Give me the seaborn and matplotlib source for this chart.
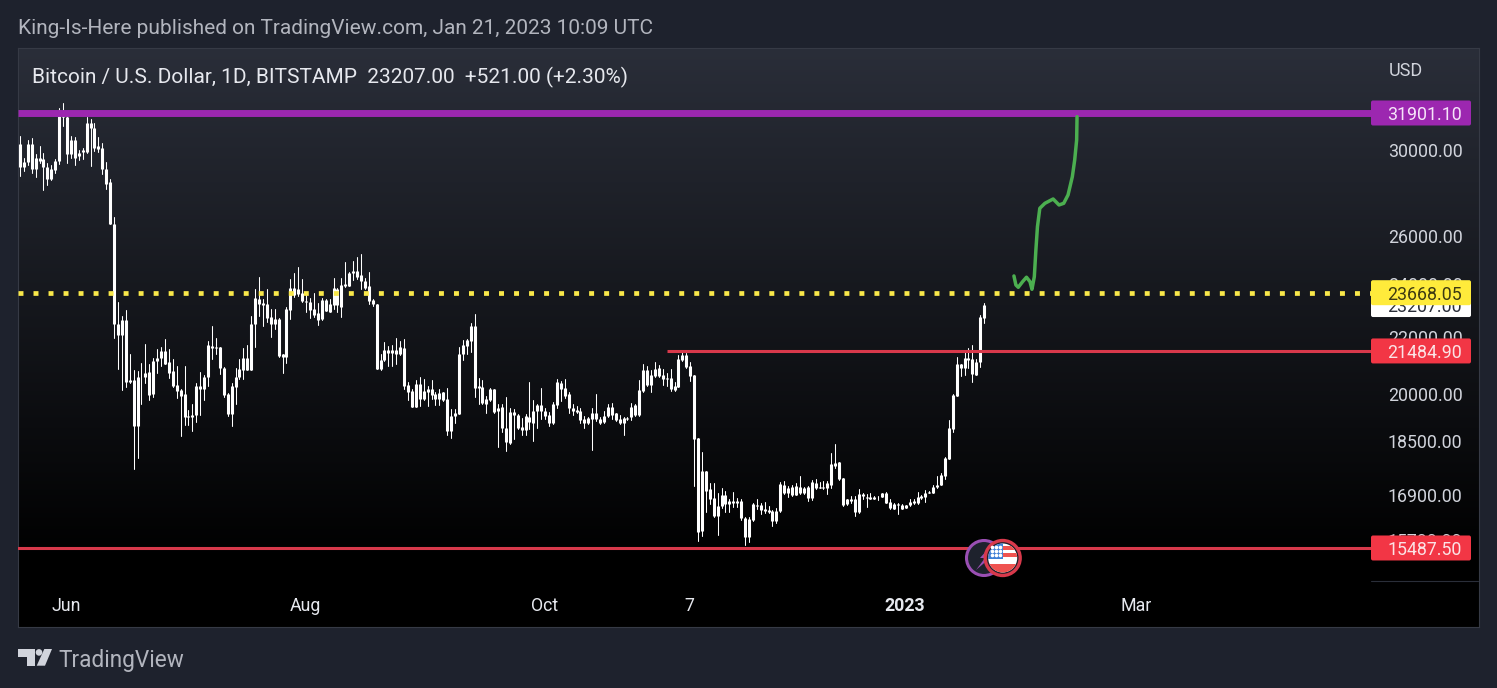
import numpy as np
import pandas as pd
import matplotlib
matplotlib.use("Agg")
import matplotlib.pyplot as plt
import seaborn as sns
from matplotlib.patches import Circle, FancyBboxPatch, Polygon, Rectangle
from matplotlib.ticker import NullLocator
from matplotlib.transforms import ScaledTranslation

# daily candles, Bitcoin / USD. every candle is drawn white so only top and bottom of the body matter
start_date = "2022-05-20"
wick_high = [
    30730, 29610, 30480, 30610, 29810, 30180, 29860, 29370, 29240, 29565, 32190, 32410, 31810, 30700, 30670, 29980,
    30110, 31690, 31560, 31390, 30670, 30370, 29420, 28565, 26850, 23290, 22770, 22980, 21360, 20800, 20780, 21070,
    21750, 21040, 21245, 21565, 21620, 21900, 21540, 21210, 20950, 20180, 20950, 19470, 19660, 20360, 20750, 20660,
    21840, 22390, 21960, 21635, 20910, 20045, 20380, 20895, 21210, 21600, 21690, 22770, 23825, 24300, 23430, 23800,
    23020, 23045, 22700, 21360, 23120, 24230, 24460, 24700, 24220, 23575, 23470, 23660, 23250, 23470, 23405, 23430,
    24260, 23865, 24260, 24920, 24490, 24930, 25105, 25220, 24260, 24490, 23405, 23210, 21385, 21815, 21655, 21705,
    21935, 21840, 21900, 20415, 20180, 20470, 20585, 20515, 20270, 20460, 20080, 20155, 20080, 20210, 19497, 19497,
    21635, 21865, 21900, 22520, 22830, 20550, 20460, 19930, 20210, 20155, 19660, 19660, 19910, 19550, 19497, 19335,
    19210, 19335, 20415, 19790, 19660, 20210, 19550, 19420, 19750, 20493, 20435, 20493, 20070, 19660, 19600, 19550,
    19280, 19250, 19530, 19990, 19250, 19440, 19680, 19715, 19390, 19310, 19260, 19260, 19715, 19660, 20460, 21030,
    20950, 20800, 21105, 20975, 20836, 20700, 20836, 20415, 21325, 21430, 21400, 21105, 20660, 18600, 18170, 17600,
    17260, 17260, 16980, 17120, 17020, 16790, 17000, 16820, 16790, 16295, 16315, 16680, 16800, 16680, 16715, 16605,
    16495, 16560, 17280, 17310, 17165, 17185, 17240, 17455, 17150, 17165, 17335, 17380, 17290, 17300, 17310, 18145,
    18395, 17875, 17405, 16810, 16885, 16885, 17071, 16960, 16930, 16960, 16885, 16885, 16980, 17000, 16790, 16680,
    16680, 16650, 16640, 16790, 16810, 17000, 16900, 17050, 17015, 17185, 17455, 17530, 18025, 19145, 20015, 21280,
    21010, 21430, 21600, 21690, 21185, 22795, 23280,
]
body_top = [
    30280, 29430, 30280, 30280, 29610, 29610, 29530, 29155, 29044, 29480, 31730, 31810, 31690, 30480, 30480, 29860,
    29975, 31350, 31350, 31140, 30210, 30075, 29090, 28425, 26540, 22450, 22600, 22600, 20460, 20460, 20590, 20590,
    20720, 20730, 21115, 21245, 21500, 21500, 21080, 20770, 20290, 20120, 19990, 19300, 19320, 20260, 20260, 20590,
    21690, 21650, 21620, 21610, 20870, 19990, 20260, 20580, 20860, 21220, 21220, 22450, 23445, 23405, 23250, 23210,
    22720, 22640, 22640, 21360, 23020, 23840, 23865, 23800, 23660, 23340, 23320, 23020, 22865, 23365, 23380, 23210,
    23840, 23800, 23980, 24000, 24440, 24520, 24520, 24360, 24125, 23915, 23365, 23210, 21160, 21530, 21530, 21530,
    21530, 21610, 21575, 20300, 20090, 20335, 20335, 20090, 20155, 20155, 20015, 20045, 20060, 19823, 19300, 19370,
    21385, 21690, 21865, 22390, 22390, 20270, 20250, 19823, 20155, 20155, 19550, 19570, 18910, 19420, 19420, 19310,
    18940, 19280, 19260, 19440, 19625, 19625, 19455, 19310, 19660, 20400, 20380, 20190, 19990, 19550, 19465, 19440,
    19176, 19210, 19390, 19390, 19200, 19300, 19585, 19585, 19370, 19176, 19210, 19230, 19590, 19625, 20120, 20800,
    20800, 20630, 20860, 20895, 20660, 20525, 20525, 20260, 21185, 21325, 21325, 20940, 20630, 18580, 17600, 17600,
    17090, 16820, 16605, 16900, 16900, 16745, 16735, 16735, 16735, 16285, 16240, 16650, 16625, 16635, 16535, 16495,
    16470, 16470, 17220, 17210, 17120, 17150, 17165, 17150, 17120, 17150, 17280, 17260, 17150, 17150, 17240, 17795,
    17845, 17865, 17385, 16810, 16810, 16790, 16930, 16930, 16865, 16850, 16850, 16850, 16960, 16980, 16725, 16670,
    16660, 16640, 16640, 16715, 16745, 16865, 16875, 16970, 16985, 17150, 17210, 17490, 17980, 18890, 19960, 21010,
    21010, 21220, 21220, 21185, 21105, 22730, 23207,
]
body_bottom = [
    29155, 29155, 29400, 29044, 29044, 29480, 29155, 28565, 28565, 29010, 29450, 31675, 29790, 29790, 29610, 29680,
    29880, 29890, 31105, 30120, 30060, 29044, 28330, 26540, 22450, 22080, 22080, 20400, 20400, 18965, 18965, 20570,
    20570, 19960, 19990, 21115, 21230, 21040, 20720, 20270, 20100, 19930, 19250, 19250, 19250, 19310, 20165, 20165,
    20570, 21590, 21590, 20870, 19960, 19335, 19335, 20235, 20570, 20825, 20810, 20810, 22450, 23210, 23170, 22710,
    22450, 22450, 21300, 21270, 21270, 23000, 23575, 23630, 23330, 23300, 22980, 22800, 22600, 22640, 22950, 22930,
    23170, 23170, 23120, 23950, 23950, 24440, 24300, 24115, 23850, 23330, 23210, 20860, 20836, 21160, 21400, 21400,
    21360, 21360, 20270, 20070, 19570, 19570, 19823, 19823, 20070, 19980, 19845, 19830, 19800, 18810, 18810, 19300,
    19335, 21385, 21655, 21825, 20210, 20190, 19715, 19680, 19790, 19420, 19440, 18890, 18465, 18445, 19310, 18910,
    18840, 18840, 19090, 19070, 19440, 19440, 19300, 19050, 19050, 19625, 20155, 19930, 19530, 19440, 19410, 19145,
    19050, 19050, 19176, 19176, 19070, 19090, 19300, 19310, 19145, 19050, 19050, 19176, 19260, 19320, 19320, 20100,
    20300, 20300, 20605, 20605, 20493, 20493, 20155, 20130, 20235, 21150, 20925, 20605, 18550, 15900, 15930, 17020,
    16790, 16330, 16330, 16605, 16650, 16670, 16700, 16700, 16285, 15780, 15770, 16215, 16605, 16495, 16470, 16450,
    16195, 16195, 16470, 16970, 16970, 16900, 16910, 16970, 16970, 16835, 16835, 17120, 17120, 17110, 17110, 17210,
    17745, 17357, 16635, 16650, 16745, 16440, 16450, 16885, 16835, 16790, 16790, 16845, 16850, 16700, 16545, 16535,
    16640, 16535, 16550, 16625, 16690, 16680, 16835, 16845, 16970, 16965, 17135, 17190, 17455, 17943, 18860, 19930,
    20895, 20870, 21150, 20690, 20660, 21090, 22700,
]
wick_low = [
    28720, 28960, 29240, 28885, 28675, 29335, 28060, 28300, 28530, 28885, 29320, 31220, 29370, 29580, 29240, 29500,
    29530, 29860, 29210, 29940, 29890, 28850, 28095, 26510, 21960, 20836, 20130, 20235, 20380, 17648, 17990, 19660,
    20380, 19800, 19890, 20720, 20950, 21010, 20540, 20250, 19860, 18650, 19000, 19000, 18810, 19090, 19310, 19790,
    20270, 21185, 21360, 20690, 19900, 19280, 18965, 19660, 20493, 20493, 20800, 20800, 21620, 22770, 22380, 22540,
    21985, 22290, 21280, 20720, 21070, 22640, 23495, 23535, 23300, 22910, 22700, 22730, 22420, 22615, 22940, 22910,
    23020, 22910, 22720, 23910, 23930, 24170, 24195, 23825, 23800, 23210, 23145, 20836, 20800, 21115, 20950, 20950,
    21010, 21350, 20180, 19800, 19560, 19560, 19600, 19800, 19600, 19823, 19625, 19640, 19770, 18700, 18590, 19050,
    19335, 21160, 21360, 21430, 19900, 19680, 19660, 19370, 19780, 19390, 18310, 18775, 18190, 18395, 18550, 18860,
    18675, 18700, 18860, 18495, 18890, 19200, 19200, 18965, 19020, 19530, 19770, 19880, 19370, 19310, 19390, 19070,
    18890, 19020, 18220, 19120, 19020, 19070, 19260, 19176, 19120, 19020, 18700, 19145, 19145, 19280, 19280, 20080,
    20270, 20070, 20585, 20585, 20300, 20270, 20100, 20090, 20220, 21125, 20895, 20435, 17165, 15670, 15790, 16450,
    16650, 16315, 15815, 16560, 16440, 16450, 16570, 16590, 16225, 15565, 15650, 16190, 16514, 16400, 16425, 16425,
    16055, 16140, 16450, 16950, 16850, 16880, 16900, 16930, 16950, 16750, 16770, 17090, 17100, 17090, 16930, 17120,
    17680, 17330, 16605, 16625, 16700, 16330, 16425, 16790, 16590, 16790, 16790, 16770, 16845, 16680, 16514, 16514,
    16380, 16514, 16545, 16605, 16670, 16670, 16790, 16715, 16965, 16960, 17120, 17185, 17380, 17943, 18775, 19930,
    20605, 20660, 20895, 20400, 20660, 20915, 22520,
]

# hand drawn green path, days after start_date and price
green_days = [253.6, 254.1, 254.7, 255.8, 256.8, 257.7, 258.2, 258.8, 259.2, 259.6,
              260.2, 261.5, 263.6, 265.1, 266.3, 267.4, 268.5, 269.1, 269.6, 269.7]
green_prices = [24335, 23973, 23881, 24104, 24284, 24104, 23802, 24306, 25407, 26411,
                27231, 27457, 27655, 27381, 27457, 27840, 28698, 29506, 30500, 31706]

level_purple = 31901.10
level_yellow = 23668.05
level_red_high = 21484.90
level_red_low = 15487.50
last_close = 23207.00
red_high_start = "2022-11-01"

price_ticks = [30000, 26000, 24000, 22000, 20000, 18500, 16900, 15700]
date_ticks = ["2022-06-01", "2022-08-01", "2022-10-01", "2022-11-07", "2023-01-01", "2023-03-01"]
date_labels = ["Jun", "Aug", "Oct", "7", "2023", "Mar"]

W, H = 1497, 688
PURPLE = "#9c27b0"
YELLOW = "#ffeb3b"
RED = "#f23645"
LINE_RED = "#d8394b"
GREEN = "#4caf50"
PAGE_BG = "#1e222d"


def days_since_start(date):
    return (pd.Timestamp(date) - pd.Timestamp(start_date)).days


def frac_box(left, top, right, bottom):
    return [left / W, 1 - bottom / H, (right - left) / W, (bottom - top) / H]


def segments(upper, lower):
    # long table with two rows for each candle, for lineplot units
    n = len(upper)
    return pd.DataFrame({
        "candle": np.tile(np.arange(n), 2),
        "day": np.tile(np.arange(n), 2),
        "price": np.concatenate([upper, lower]),
    })


sns.set_theme(style="dark")
plt.rcParams["font.family"] = ["Roboto", "DejaVu Sans"]

fig = plt.figure(figsize=(W / 100, H / 100), dpi=100, facecolor=PAGE_BG)

# panel background, grey at the top fading to black
bg = fig.add_axes(frac_box(18, 48, 1479, 627))
top_rgb = np.array([0x2a, 0x2e, 0x39]) / 255
fade = np.clip(1 - np.linspace(0, 579, 580) / 515, 0, 1)[:, None, None]
bg.imshow(fade * top_rgb[None, None, :], aspect="auto")
bg.set_xticks([])
bg.set_yticks([])
for spine in bg.spines.values():
    spine.set_color("#363a45")
    spine.set_linewidth(0.8)

ax = fig.add_axes(frac_box(18, 48, 1371, 581))
ax.patch.set_alpha(0)
ax.set_yscale("log")

sns.lineplot(data=segments(wick_high, wick_low), x="day", y="price", units="candle", estimator=None,
             color="white", linewidth=0.75, legend=False, ax=ax)
sns.lineplot(data=segments(body_top, body_bottom), x="day", y="price", units="candle", estimator=None,
             color="white", linewidth=2.2, solid_capstyle="butt", legend=False, ax=ax)

ax.axhline(level_purple, color=PURPLE, linewidth=5, solid_capstyle="butt", zorder=5)
ax.axhline(level_yellow, color="#f9e84a", linewidth=3.4, linestyle=(0, (1.05, 2.13)), zorder=5)
ax.axhline(level_red_low, color=LINE_RED, linewidth=2.2, zorder=5)
ax.hlines(level_red_high, days_since_start(red_high_start), 400, color=LINE_RED, linewidth=2.2, zorder=5)

sns.lineplot(x=green_days, y=green_prices, color=GREEN, linewidth=2.5, sort=False, ax=ax, zorder=6)

ax.set_xlim(-0.5, 344.7)
ax.set_ylim(14661, 35538)
ax.set_xlabel("")
ax.set_ylabel("")
for spine in ax.spines.values():
    spine.set_visible(False)

ax.yaxis.tick_right()
ax.yaxis.set_minor_locator(NullLocator())
ax.set_yticks(price_ticks)
ax.set_yticklabels([f"{p:.2f}" for p in price_ticks], fontsize=12.8, color="#d1d4dc")
ax.set_xticks([days_since_start(d) for d in date_ticks])
ax.set_xticklabels(date_labels, fontsize=12.8, color="#e6e8ee")
ax.get_xticklabels()[4].set_fontweight("bold")
ax.tick_params(axis="y", length=0, pad=12)
ax.tick_params(axis="x", length=0, pad=11.5)
# date labels sit a little left of their day
label_shift = ScaledTranslation(-1 / 100, 0, fig.dpi_scale_trans)
for label in ax.get_xticklabels():
    label.set_transform(label.get_transform() + label_shift)

# top layer in image pixels: header, price tags, event icons, logo
top = fig.add_axes([0, 0, 1, 1])
top.set_xlim(0, W)
top.set_ylim(H, 0)
top.axis("off")

top.text(18, 29, "King-Is-Here published on TradingView.com, Jan 21, 2023 10:09 UTC",
         fontsize=15.05, color="#b2b5be", va="center")
top.text(32, 77, "Bitcoin / U.S. Dollar, 1D, BITSTAMP  23207.00  +521.00 (+2.30%)",
         fontsize=15.05, color="#e6e8ee", va="center")
top.text(1389, 71, "USD", fontsize=13, color="#d1d4dc", va="center")
top.text(58.5, 660, "TradingView", fontsize=16.3, color="#b2b5be", va="center")

# each tag covers the ones before it, text included
tag_rows = [(last_close, "white", "#2a2e39"),
            (level_yellow, YELLOW, "#3d3a12"),
            (level_red_high, RED, "#fbe3e6"),
            (level_red_low, RED, "#fbe3e6"),
            (level_purple, PURPLE, "#f6e4f9")]
for i, (price, fill, ink) in enumerate(tag_rows):
    tag_y = H - ax.transData.transform((0, price))[1]
    top.add_patch(FancyBboxPatch((1371, tag_y - 12.5), 100, 25, boxstyle="round,pad=0,rounding_size=2",
                                 facecolor=fill, edgecolor="none", zorder=10 + 2 * i))
    top.text(1424.5, tag_y + 0.5, f"{price:.2f}", fontsize=12.8, color=ink, ha="center", va="center_baseline",
             zorder=11 + 2 * i)

# thin rule between the price scale and the date scale corner
top.plot([1371, 1478], [581, 581], color="#2a2e39", linewidth=0.8)

# tradingview logo
logo = "#d1d4dc"
top.add_patch(Polygon([(18, 649), (34.7, 649), (34.7, 665.7), (26.7, 665.7), (26.7, 657.3), (18, 657.3)], color=logo, lw=0))
top.add_patch(Polygon([(44.3, 649), (52, 649), (45, 665.7), (36.7, 665.7)], color=logo, lw=0))
top.add_patch(Circle((39, 652.4), 3.3, color=logo, lw=0))

# event icons on the date scale
top.add_patch(Circle((984, 558), 17.5, facecolor="#1e222d", edgecolor="#9a4fb3", linewidth=2.2))
top.add_patch(Polygon([(988, 549), (980, 558), (985, 558), (976, 570), (990, 558), (984, 557)], color="#9a4fb3", lw=0))
top.add_patch(Circle((1002.7, 558), 17.5, facecolor="#1e222d", edgecolor="#d8394b", linewidth=2.4))
flag = Circle((1002.7, 558), 14.5, facecolor="white", edgecolor="none")
top.add_patch(flag)
stripes = [Rectangle((988, 546), 30, 4, color="#ef5350", lw=0), Rectangle((988, 553), 30, 3.5, color="#ef5350", lw=0),
           Rectangle((988, 564), 30, 9, color="#ef5350", lw=0), Rectangle((988, 543), 15, 16, color="#3f7fd6", lw=0)]
for stripe in stripes:
    top.add_patch(stripe)
    stripe.set_clip_path(flag)
for row_y in [547, 551, 555]:
    top.plot([992, 996, 1000], [row_y] * 3, linestyle="none", marker="o", markersize=1.6, color="white")

plt.savefig("out.png", dpi=100, facecolor=fig.get_facecolor())
plt.close()
